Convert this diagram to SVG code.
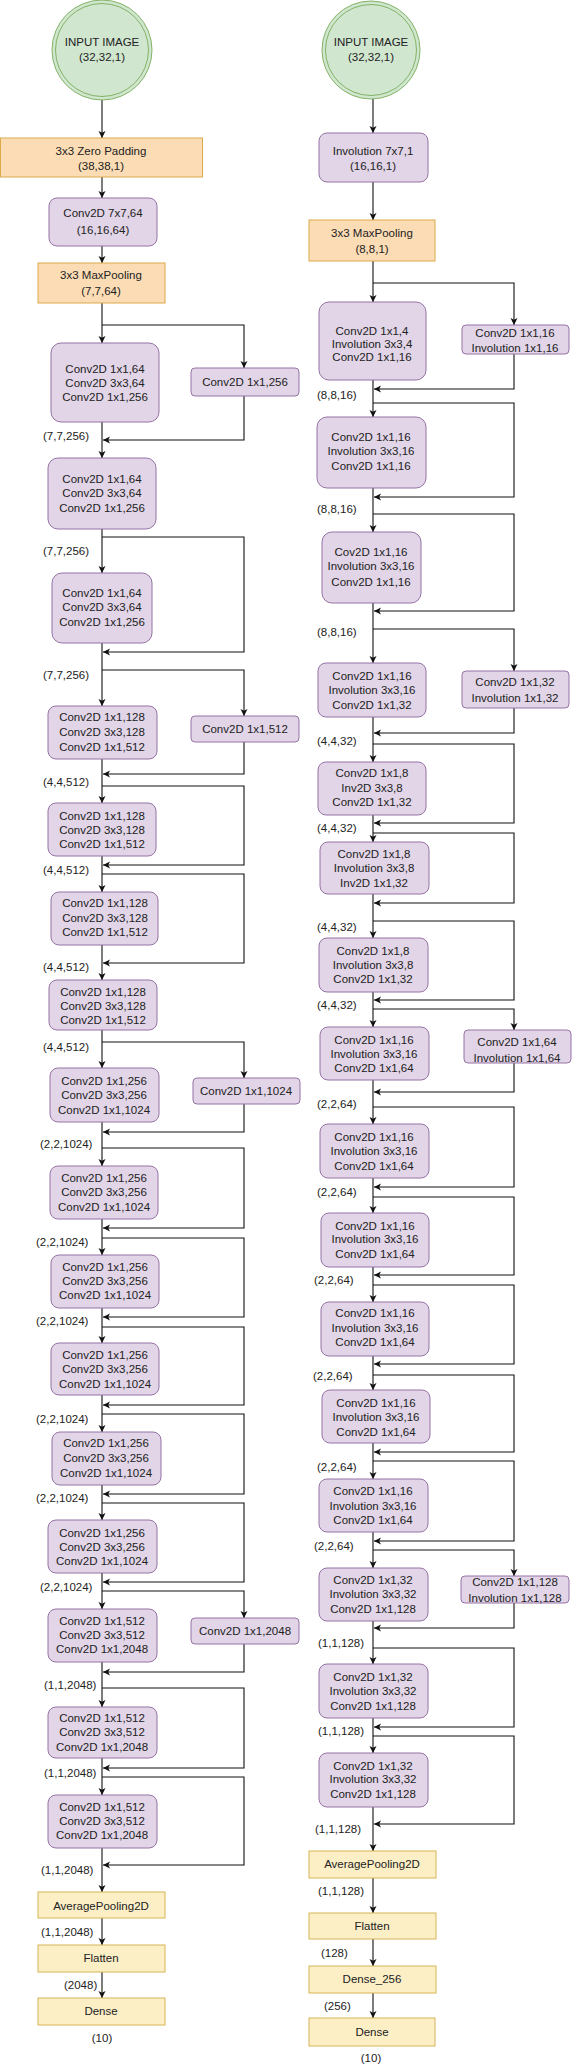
<svg xmlns="http://www.w3.org/2000/svg" width="572" height="2067" viewBox="0 0 572 2067">
<defs>
<marker id="ar" markerWidth="8" markerHeight="8" refX="7" refY="3.5" orient="auto" markerUnits="userSpaceOnUse"><path d="M0,0 L7,3.5 L0,7 L1.8,3.5 z" fill="#111"/></marker>
<style>
.p{fill:#e1d5e7;stroke:#9673a6;stroke-width:1}
.o{fill:#fcdcb5;stroke:#dcaa4a;stroke-width:1}
.y{fill:#fcefc6;stroke:#d6b656;stroke-width:1}
.g{fill:#d0e6cf;stroke:#82b366;stroke-width:1}
text{font-family:"Liberation Sans",Arial,sans-serif;font-size:11.5px;fill:#222}
.c{text-anchor:middle}
.e{fill:none;stroke:#111;stroke-width:1.1}
</style>
</defs>
<rect width="572" height="2067" fill="#fff"/>
<g id="edges">
<path class="e" marker-end="url(#ar)" d="M102,100V138"/><path class="e" marker-end="url(#ar)" d="M102,177V198"/><path class="e" marker-end="url(#ar)" d="M102,246V263"/><path class="e" marker-end="url(#ar)" d="M102,303V343"/><path class="e" marker-end="url(#ar)" d="M102,422V458"/><path class="e" marker-end="url(#ar)" d="M102,529V573"/><path class="e" marker-end="url(#ar)" d="M102,643V706"/><path class="e" marker-end="url(#ar)" d="M102,759V803"/><path class="e" marker-end="url(#ar)" d="M102,856V892"/><path class="e" marker-end="url(#ar)" d="M102,945V980"/><path class="e" marker-end="url(#ar)" d="M102,1030V1068"/><path class="e" marker-end="url(#ar)" d="M102,1122V1166"/><path class="e" marker-end="url(#ar)" d="M102,1219V1255"/><path class="e" marker-end="url(#ar)" d="M102,1308V1343"/><path class="e" marker-end="url(#ar)" d="M102,1395V1432"/><path class="e" marker-end="url(#ar)" d="M102,1485V1520"/><path class="e" marker-end="url(#ar)" d="M102,1573V1609"/><path class="e" marker-end="url(#ar)" d="M102,1662V1707"/><path class="e" marker-end="url(#ar)" d="M102,1758V1795"/><path class="e" marker-end="url(#ar)" d="M102,1848V1892"/><path class="e" marker-end="url(#ar)" d="M102,1918V1945"/><path class="e" marker-end="url(#ar)" d="M102,1972V1998"/>
<path class="e" marker-end="url(#ar)" d="M102,325H244V368"/><path class="e" marker-end="url(#ar)" d="M244,396V440H103"/>
<path class="e" marker-end="url(#ar)" d="M102,537H244V652H103"/>
<path class="e" marker-end="url(#ar)" d="M102,670H244V716"/><path class="e" marker-end="url(#ar)" d="M244,742V774H103"/>
<path class="e" marker-end="url(#ar)" d="M102,786H244V865H103"/>
<path class="e" marker-end="url(#ar)" d="M102,874H244V963H103"/>
<path class="e" marker-end="url(#ar)" d="M102,1042H244V1078"/><path class="e" marker-end="url(#ar)" d="M244,1104V1132H103"/>
<path class="e" marker-end="url(#ar)" d="M102,1148H244V1228H103"/>
<path class="e" marker-end="url(#ar)" d="M102,1238H244V1317H103"/>
<path class="e" marker-end="url(#ar)" d="M102,1327H244V1405H103"/>
<path class="e" marker-end="url(#ar)" d="M102,1414H244V1494H103"/>
<path class="e" marker-end="url(#ar)" d="M102,1503H244V1582H103"/>
<path class="e" marker-end="url(#ar)" d="M102,1591H244V1618"/><path class="e" marker-end="url(#ar)" d="M244,1644V1672H103"/>
<path class="e" marker-end="url(#ar)" d="M102,1688H244V1768H103"/>
<path class="e" marker-end="url(#ar)" d="M102,1777H244V1865H103"/>
<path class="e" marker-end="url(#ar)" d="M373,99V133"/><path class="e" marker-end="url(#ar)" d="M373,182V220"/><path class="e" marker-end="url(#ar)" d="M373,261V302"/><path class="e" marker-end="url(#ar)" d="M373,380V417"/><path class="e" marker-end="url(#ar)" d="M373,488V532"/><path class="e" marker-end="url(#ar)" d="M373,603V663"/><path class="e" marker-end="url(#ar)" d="M373,717V762"/><path class="e" marker-end="url(#ar)" d="M373,815V842"/><path class="e" marker-end="url(#ar)" d="M373,894V938"/><path class="e" marker-end="url(#ar)" d="M373,992V1027"/><path class="e" marker-end="url(#ar)" d="M373,1080V1124"/><path class="e" marker-end="url(#ar)" d="M373,1178V1213"/><path class="e" marker-end="url(#ar)" d="M373,1267V1302"/><path class="e" marker-end="url(#ar)" d="M373,1356V1390"/><path class="e" marker-end="url(#ar)" d="M373,1443V1479"/><path class="e" marker-end="url(#ar)" d="M373,1532V1568"/><path class="e" marker-end="url(#ar)" d="M373,1621V1664"/><path class="e" marker-end="url(#ar)" d="M373,1718V1753"/><path class="e" marker-end="url(#ar)" d="M373,1807V1851"/><path class="e" marker-end="url(#ar)" d="M373,1878V1913"/><path class="e" marker-end="url(#ar)" d="M373,1939V1966"/><path class="e" marker-end="url(#ar)" d="M373,1993V2018"/>
<path class="e" marker-end="url(#ar)" d="M373,283H514V325"/><path class="e" marker-end="url(#ar)" d="M514,354V389H374"/>
<path class="e" marker-end="url(#ar)" d="M373,403H514V497H374"/>
<path class="e" marker-end="url(#ar)" d="M373,514H514V611H374"/>
<path class="e" marker-end="url(#ar)" d="M373,629H514V671"/><path class="e" marker-end="url(#ar)" d="M514,708V733H374"/>
<path class="e" marker-end="url(#ar)" d="M373,744H514V823H374"/>
<path class="e" marker-end="url(#ar)" d="M373,833H514V903H374"/>
<path class="e" marker-end="url(#ar)" d="M373,921H514V1000H374"/>
<path class="e" marker-end="url(#ar)" d="M373,1009H514V1030"/><path class="e" marker-end="url(#ar)" d="M514,1063V1092H374"/>
<path class="e" marker-end="url(#ar)" d="M373,1107H514V1187H374"/>
<path class="e" marker-end="url(#ar)" d="M373,1197H514V1275H374"/>
<path class="e" marker-end="url(#ar)" d="M373,1285H514V1364H374"/>
<path class="e" marker-end="url(#ar)" d="M373,1375H514V1452H374"/>
<path class="e" marker-end="url(#ar)" d="M373,1461H514V1541H374"/>
<path class="e" marker-end="url(#ar)" d="M373,1550H514V1576"/><path class="e" marker-end="url(#ar)" d="M514,1603V1628H374"/>
<path class="e" marker-end="url(#ar)" d="M373,1648H514V1727H374"/>
<path class="e" marker-end="url(#ar)" d="M373,1736H514V1824H374"/>
</g>
<g id="labels">
<text x="43" y="440">(7,7,256)</text><text x="43" y="555">(7,7,256)</text><text x="43" y="679">(7,7,256)</text>
<text x="43" y="786">(4,4,512)</text><text x="43" y="874">(4,4,512)</text><text x="43" y="971">(4,4,512)</text><text x="43" y="1051">(4,4,512)</text>
<text x="40" y="1148">(2,2,1024)</text><text x="36" y="1246">(2,2,1024)</text><text x="36" y="1325">(2,2,1024)</text><text x="36" y="1423">(2,2,1024)</text><text x="36" y="1502">(2,2,1024)</text><text x="40" y="1591">(2,2,1024)</text>
<text x="44" y="1689">(1,1,2048)</text><text x="44" y="1777">(1,1,2048)</text><text x="41" y="1874">(1,1,2048)</text><text x="41" y="1936">(1,1,2048)</text>
<text x="64" y="1989">(2048)</text><text class="c" x="102" y="2042">(10)</text>
<text x="317" y="399">(8,8,16)</text><text x="317" y="513">(8,8,16)</text><text x="317" y="636">(8,8,16)</text>
<text x="317" y="745">(4,4,32)</text><text x="317" y="832">(4,4,32)</text><text x="317" y="931">(4,4,32)</text><text x="317" y="1009">(4,4,32)</text>
<text x="317" y="1108">(2,2,64)</text><text x="317" y="1196">(2,2,64)</text><text x="314" y="1284">(2,2,64)</text><text x="313" y="1380">(2,2,64)</text><text x="317" y="1471">(2,2,64)</text><text x="314" y="1550">(2,2,64)</text>
<text x="318" y="1647">(1,1,128)</text><text x="318" y="1735">(1,1,128)</text><text x="315" y="1833">(1,1,128)</text><text x="318" y="1895">(1,1,128)</text>
<text x="321" y="1957">(128)</text><text x="324" y="2010">(256)</text><text class="c" x="371" y="2062">(10)</text>
</g>
<g id="L_input"><circle class="g" cx="102" cy="50" r="50"/><circle class="g" cx="102" cy="50" r="46.5"/><text class="c" x="102" y="46">INPUT IMAGE</text><text class="c" x="102" y="61">(32,32,1)</text></g>
<g id="L_zeropad"><rect class="o" x="0.5" y="138" width="202" height="39"/><text class="c" x="101" y="155">3x3 Zero Padding</text><text class="c" x="101" y="170">(38,38,1)</text></g>
<g id="L_conv7"><rect class="p" x="49" y="198" width="108" height="48" rx="8"/><text class="c" x="103" y="217">Conv2D 7x7,64</text><text class="c" x="103" y="234">(16,16,64)</text></g>
<g id="L_maxpool"><rect class="o" x="38" y="263" width="127" height="40"/><text class="c" x="101" y="279">3x3 MaxPooling</text><text class="c" x="101" y="295">(7,7,64)</text></g>
<g id="L_b1"><rect class="p" x="51" y="343" width="108" height="79" rx="10"/><text class="c" x="105" y="373">Conv2D 1x1,64</text><text class="c" x="105" y="387">Conv2D 3x3,64</text><text class="c" x="105" y="401">Conv2D 1x1,256</text></g>
<g id="L_s1"><rect class="p" x="191" y="368" width="108" height="28" rx="4"/><text class="c" x="245" y="386">Conv2D 1x1,256</text></g>
<g id="L_b2"><rect class="p" x="48" y="458" width="108" height="71" rx="10"/><text class="c" x="102" y="483">Conv2D 1x1,64</text><text class="c" x="102" y="497">Conv2D 3x3,64</text><text class="c" x="102" y="512">Conv2D 1x1,256</text></g>
<g id="L_b3"><rect class="p" x="52" y="573" width="100" height="70" rx="10"/><text class="c" x="102" y="597">Conv2D 1x1,64</text><text class="c" x="102" y="611">Conv2D 3x3,64</text><text class="c" x="102" y="626">Conv2D 1x1,256</text></g>
<g id="L_b4"><rect class="p" x="48" y="706" width="109" height="53" rx="8"/><text class="c" x="102" y="721">Conv2D 1x1,128</text><text class="c" x="102" y="736">Conv2D 3x3,128</text><text class="c" x="102" y="751">Conv2D 1x1,512</text></g>
<g id="L_s2"><rect class="p" x="191" y="716" width="108" height="26" rx="4"/><text class="c" x="245" y="733">Conv2D 1x1,512</text></g>
<g id="L_b5"><rect class="p" x="48" y="803" width="108" height="53" rx="8"/><text class="c" x="102" y="820">Conv2D 1x1,128</text><text class="c" x="102" y="834">Conv2D 3x3,128</text><text class="c" x="102" y="848">Conv2D 1x1,512</text></g>
<g id="L_b6"><rect class="p" x="51" y="892" width="107" height="53" rx="8"/><text class="c" x="105" y="907">Conv2D 1x1,128</text><text class="c" x="105" y="922">Conv2D 3x3,128</text><text class="c" x="105" y="936">Conv2D 1x1,512</text></g>
<g id="L_b7"><rect class="p" x="49" y="980" width="108" height="50" rx="8"/><text class="c" x="103" y="996">Conv2D 1x1,128</text><text class="c" x="103" y="1010">Conv2D 3x3,128</text><text class="c" x="103" y="1024">Conv2D 1x1,512</text></g>
<g id="L_b8"><rect class="p" x="50" y="1068" width="109" height="54" rx="8"/><text class="c" x="104" y="1085">Conv2D 1x1,256</text><text class="c" x="104" y="1099">Conv2D 3x3,256</text><text class="c" x="104" y="1114">Conv2D 1x1,1024</text></g>
<g id="L_s3"><rect class="p" x="193" y="1078" width="107" height="26" rx="4"/><text class="c" x="246" y="1095">Conv2D 1x1,1024</text></g>
<g id="L_b9"><rect class="p" x="50" y="1166" width="108" height="53" rx="8"/><text class="c" x="104" y="1182">Conv2D 1x1,256</text><text class="c" x="104" y="1196">Conv2D 3x3,256</text><text class="c" x="104" y="1211">Conv2D 1x1,1024</text></g>
<g id="L_b10"><rect class="p" x="51" y="1255" width="108" height="53" rx="8"/><text class="c" x="105" y="1271">Conv2D 1x1,256</text><text class="c" x="105" y="1285">Conv2D 3x3,256</text><text class="c" x="105" y="1299">Conv2D 1x1,1024</text></g>
<g id="L_b11"><rect class="p" x="51" y="1343" width="108" height="52" rx="8"/><text class="c" x="105" y="1359">Conv2D 1x1,256</text><text class="c" x="105" y="1373">Conv2D 3x3,256</text><text class="c" x="105" y="1388">Conv2D 1x1,1024</text></g>
<g id="L_b12"><rect class="p" x="52" y="1432" width="109" height="53" rx="8"/><text class="c" x="106" y="1447">Conv2D 1x1,256</text><text class="c" x="106" y="1462">Conv2D 3x3,256</text><text class="c" x="106" y="1477">Conv2D 1x1,1024</text></g>
<g id="L_b13"><rect class="p" x="48" y="1520" width="109" height="53" rx="8"/><text class="c" x="102" y="1537">Conv2D 1x1,256</text><text class="c" x="102" y="1551">Conv2D 3x3,256</text><text class="c" x="102" y="1565">Conv2D 1x1,1024</text></g>
<g id="L_b14"><rect class="p" x="48" y="1609" width="109" height="53" rx="8"/><text class="c" x="102" y="1625">Conv2D 1x1,512</text><text class="c" x="102" y="1639">Conv2D 3x3,512</text><text class="c" x="102" y="1653">Conv2D 1x1,2048</text></g>
<g id="L_s4"><rect class="p" x="191" y="1618" width="108" height="26" rx="4"/><text class="c" x="245" y="1635">Conv2D 1x1,2048</text></g>
<g id="L_b15"><rect class="p" x="48" y="1707" width="109" height="51" rx="8"/><text class="c" x="102" y="1722">Conv2D 1x1,512</text><text class="c" x="102" y="1736">Conv2D 3x3,512</text><text class="c" x="102" y="1751">Conv2D 1x1,2048</text></g>
<g id="L_b16"><rect class="p" x="48" y="1795" width="109" height="53" rx="8"/><text class="c" x="102" y="1811">Conv2D 1x1,512</text><text class="c" x="102" y="1825">Conv2D 3x3,512</text><text class="c" x="102" y="1839">Conv2D 1x1,2048</text></g>
<g id="L_avgpool"><rect class="y" x="38" y="1892" width="127" height="26"/><text class="c" x="101" y="1910">AveragePooling2D</text></g>
<g id="L_flatten"><rect class="y" x="38" y="1945" width="127" height="27"/><text class="c" x="101" y="1962">Flatten</text></g>
<g id="L_dense"><rect class="y" x="38" y="1998" width="127" height="27"/><text class="c" x="101" y="2015">Dense</text></g>
<g id="R_input"><circle class="g" cx="371" cy="50" r="49"/><circle class="g" cx="371" cy="50" r="45.5"/><text class="c" x="371" y="46">INPUT IMAGE</text><text class="c" x="371" y="61">(32,32,1)</text></g>
<g id="R_inv7"><rect class="p" x="319" y="133" width="109" height="49" rx="8"/><text class="c" x="373" y="155">Involution 7x7,1</text><text class="c" x="373" y="170">(16,16,1)</text></g>
<g id="R_maxpool"><rect class="o" x="309" y="220" width="126" height="41"/><text class="c" x="372" y="237">3x3 MaxPooling</text><text class="c" x="372" y="253">(8,8,1)</text></g>
<g id="R_b1"><rect class="p" x="319" y="302" width="107" height="78" rx="10"/><text class="c" x="372" y="335">Conv2D 1x1,4</text><text class="c" x="372" y="348">Involution 3x3,4</text><text class="c" x="372" y="361">Conv2D 1x1,16</text></g>
<g id="R_s1"><rect class="p" x="462" y="325" width="107" height="29" rx="4"/><text class="c" x="515" y="337">Conv2D 1x1,16</text><text class="c" x="515" y="352">Involution 1x1,16</text></g>
<g id="R_b2"><rect class="p" x="317" y="417" width="109" height="71" rx="10"/><text class="c" x="371" y="441">Conv2D 1x1,16</text><text class="c" x="371" y="455">Involution 3x3,16</text><text class="c" x="371" y="470">Conv2D 1x1,16</text></g>
<g id="R_b3"><rect class="p" x="322" y="532" width="99" height="71" rx="10"/><text class="c" x="371" y="556">Cov2D 1x1,16</text><text class="c" x="371" y="570">Involution 3x3,16</text><text class="c" x="371" y="586">Conv2D 1x1,16</text></g>
<g id="R_b4"><rect class="p" x="318" y="663" width="108" height="54" rx="8"/><text class="c" x="372" y="680">Conv2D 1x1,16</text><text class="c" x="372" y="694">Involution 3x3,16</text><text class="c" x="372" y="709">Conv2D 1x1,32</text></g>
<g id="R_s2"><rect class="p" x="462" y="671" width="107" height="37" rx="4"/><text class="c" x="515" y="686">Conv2D 1x1,32</text><text class="c" x="515" y="702">Involution 1x1,32</text></g>
<g id="R_b5"><rect class="p" x="318" y="762" width="108" height="53" rx="8"/><text class="c" x="372" y="777">Conv2D 1x1,8</text><text class="c" x="372" y="792">Inv2D 3x3,8</text><text class="c" x="372" y="806">Conv2D 1x1,32</text></g>
<g id="R_b6"><rect class="p" x="320" y="842" width="109" height="52" rx="8"/><text class="c" x="374" y="858">Conv2D 1x1,8</text><text class="c" x="374" y="872">Involution 3x3,8</text><text class="c" x="374" y="887">Inv2D 1x1,32</text></g>
<g id="R_b7"><rect class="p" x="319" y="938" width="109" height="54" rx="8"/><text class="c" x="373" y="955">Conv2D 1x1,8</text><text class="c" x="373" y="969">Involution 3x3,8</text><text class="c" x="373" y="983">Conv2D 1x1,32</text></g>
<g id="R_b8"><rect class="p" x="320" y="1027" width="109" height="53" rx="8"/><text class="c" x="374" y="1044">Conv2D 1x1,16</text><text class="c" x="374" y="1058">Involution 3x3,16</text><text class="c" x="374" y="1072">Conv2D 1x1,64</text></g>
<g id="R_s3"><rect class="p" x="464" y="1030" width="107" height="33" rx="4"/><text class="c" x="517" y="1046">Conv2D 1x1,64</text><text class="c" x="517" y="1062">Involution 1x1,64</text></g>
<g id="R_b9"><rect class="p" x="320" y="1124" width="109" height="54" rx="8"/><text class="c" x="374" y="1141">Conv2D 1x1,16</text><text class="c" x="374" y="1155">Involution 3x3,16</text><text class="c" x="374" y="1170">Conv2D 1x1,64</text></g>
<g id="R_b10"><rect class="p" x="321" y="1213" width="108" height="54" rx="8"/><text class="c" x="375" y="1230">Conv2D 1x1,16</text><text class="c" x="375" y="1243">Involution 3x3,16</text><text class="c" x="375" y="1258">Conv2D 1x1,64</text></g>
<g id="R_b11"><rect class="p" x="321" y="1302" width="108" height="54" rx="8"/><text class="c" x="375" y="1317">Conv2D 1x1,16</text><text class="c" x="375" y="1332">Involution 3x3,16</text><text class="c" x="375" y="1346">Conv2D 1x1,64</text></g>
<g id="R_b12"><rect class="p" x="322" y="1390" width="108" height="53" rx="8"/><text class="c" x="376" y="1407">Conv2D 1x1,16</text><text class="c" x="376" y="1421">Involution 3x3,16</text><text class="c" x="376" y="1436">Conv2D 1x1,64</text></g>
<g id="R_b13"><rect class="p" x="319" y="1479" width="109" height="53" rx="8"/><text class="c" x="373" y="1495">Conv2D 1x1,16</text><text class="c" x="373" y="1510">Involution 3x3,16</text><text class="c" x="373" y="1524">Conv2D 1x1,64</text></g>
<g id="R_b14"><rect class="p" x="319" y="1568" width="109" height="53" rx="8"/><text class="c" x="373" y="1584">Conv2D 1x1,32</text><text class="c" x="373" y="1598">Involution 3x3,32</text><text class="c" x="373" y="1613">Conv2D 1x1,128</text></g>
<g id="R_s4"><rect class="p" x="461" y="1576" width="108" height="27" rx="4"/><text class="c" x="515" y="1586">Conv2D 1x1,128</text><text class="c" x="515" y="1602">Involution 1x1,128</text></g>
<g id="R_b15"><rect class="p" x="319" y="1664" width="109" height="54" rx="8"/><text class="c" x="373" y="1681">Conv2D 1x1,32</text><text class="c" x="373" y="1695">Involution 3x3,32</text><text class="c" x="373" y="1710">Conv2D 1x1,128</text></g>
<g id="R_b16"><rect class="p" x="319" y="1753" width="109" height="54" rx="8"/><text class="c" x="373" y="1770">Conv2D 1x1,32</text><text class="c" x="373" y="1783">Involution 3x3,32</text><text class="c" x="373" y="1798">Conv2D 1x1,128</text></g>
<g id="R_avgpool"><rect class="y" x="309" y="1851" width="127" height="27"/><text class="c" x="372" y="1868">AveragePooling2D</text></g>
<g id="R_flatten"><rect class="y" x="309" y="1913" width="127" height="26"/><text class="c" x="372" y="1930">Flatten</text></g>
<g id="R_dense256"><rect class="y" x="309" y="1966" width="127" height="27"/><text class="c" x="372" y="1983">Dense_256</text></g>
<g id="R_dense"><rect class="y" x="309" y="2018" width="126" height="28"/><text class="c" x="372" y="2036">Dense</text></g>
</svg>
